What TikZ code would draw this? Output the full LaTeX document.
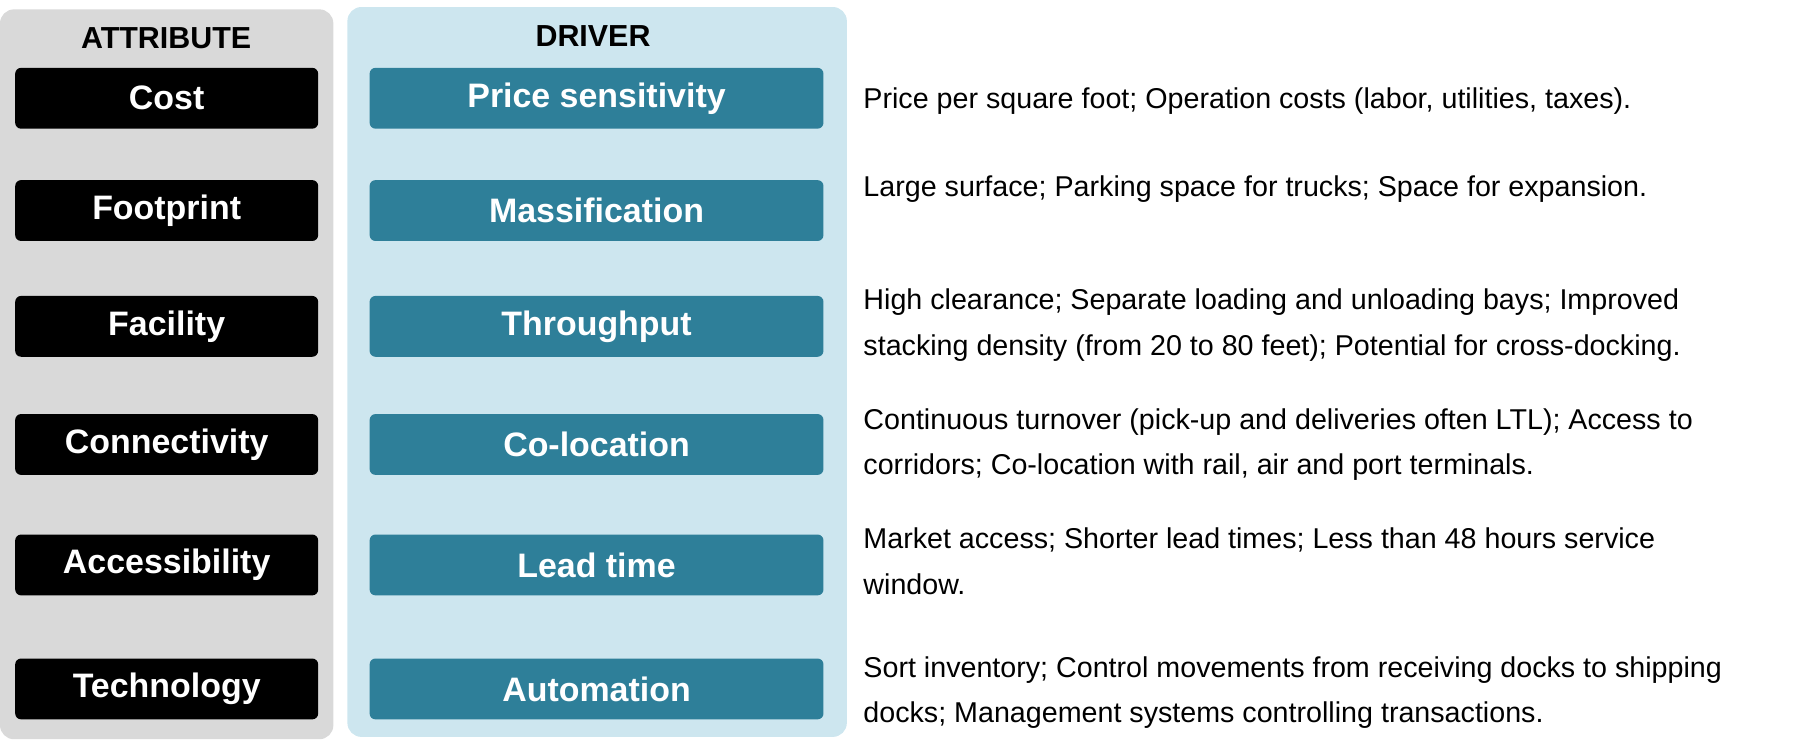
\documentclass[tikz,border=0pt]{standalone}
\usepackage{fontspec}
\setmainfont{Liberation Sans}
\begin{document}
\begin{tikzpicture}[x=1pt,y=-1pt,
 panel/.style={rounded corners=12pt},
 attr/.style={fill=black,rounded corners=5pt,minimum width=259pt,minimum height=52pt,text=white,font=\fontsize{29}{32}\selectfont\bfseries,inner sep=0pt},
 drv/.style={fill=teal0,rounded corners=5pt,minimum width=388pt,minimum height=52pt,text=white,font=\fontsize{29}{32}\selectfont\bfseries,inner sep=0pt},
 desc/.style={anchor=west,align=left,font=\fontsize{24.5}{39}\selectfont,inner sep=0pt},
 hdr/.style={font=\fontsize{26}{28}\selectfont\bfseries}]
\definecolor{teal0}{HTML}{2E7F99}
\definecolor{gray0}{HTML}{D9D9D9}
\definecolor{blue0}{HTML}{CDE6EF}
\useasboundingbox (0,0) rectangle (1550,642);
\fill[gray0,panel] (0,8) rectangle (285,632);
\fill[blue0,panel] (297,6) rectangle (724,630);
\node[hdr] (h1) at (142,33) {ATTRIBUTE};
\node[hdr] (h2) at (507,31) {DRIVER};
\foreach \n/\y/\a/\d in {1/84/Cost/Price sensitivity,2/180/Footprint/Massification,3/279/Facility/Throughput,4/380/Connectivity/Co-location,5/483/Accessibility/Lead time,6/589/Technology/Automation}{
 \node[attr] (a\n) at (142.5,\y) {\a};
 \node[drv] (d\n) at (510,\y) {\d};
}
\node[desc] (t1) at (738,86) {Price per square foot; Operation costs (labor, utilities, taxes).};
\node[desc] (t2) at (738,162) {Large surface; Parking space for trucks; Space for expansion.};
\node[desc] (t3) at (738,278) {High clearance; Separate loading and unloading bays; Improved\\stacking density (from 20 to 80 feet); Potential for cross-docking.};
\node[desc] (t4) at (738,380) {Continuous turnover (pick-up and deliveries often LTL); Access to\\corridors; Co-location with rail, air and port terminals.};
\node[desc] (t5) at (738,480) {Market access; Shorter lead times; Less than 48 hours service\\window.};
\node[desc] (t6) at (738,592) {Sort inventory; Control movements from receiving docks to shipping\\docks; Management systems controlling transactions.};
\end{tikzpicture}
\end{document}
